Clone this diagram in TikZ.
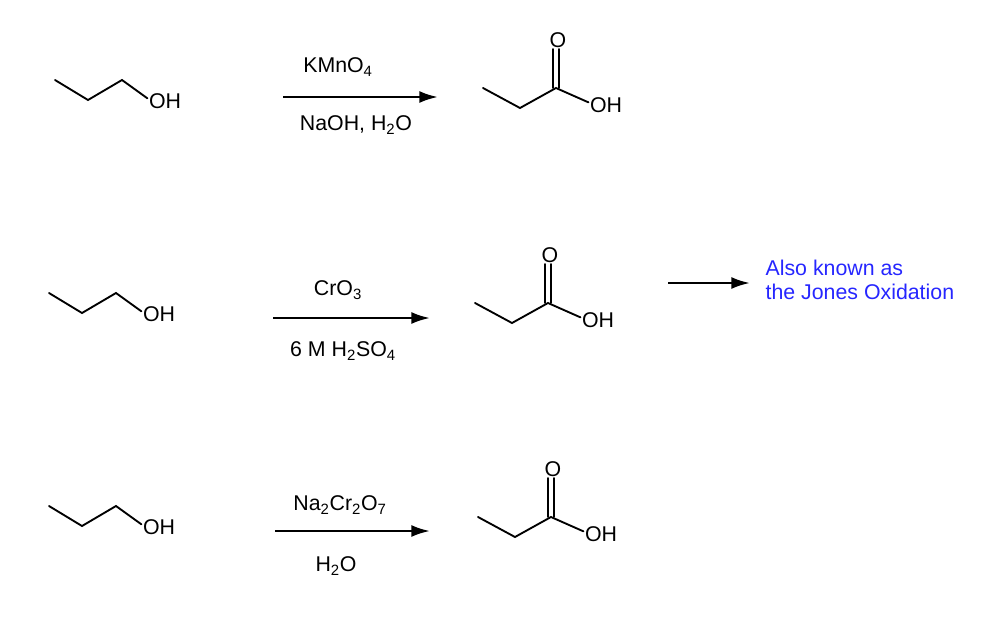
\documentclass[tikz,border=0pt]{standalone}
\usepackage{fontspec}
\setmainfont{Liberation Sans}
\usetikzlibrary{arrows.meta}
\newcommand{\sub}[1]{\textsubscript{#1}}
\begin{document}
\begin{tikzpicture}[x=0.75pt,y=-0.75pt,
  bond/.style={line width=1.4pt,line cap=round},
  rxn/.style={line width=1.9pt,-{Latex[length=14pt,width=9pt]}},
  lbl/.style={font=\fontsize{16}{18}\selectfont,inner sep=1pt},
  blue/.style={lbl,text=blue!85!white,align=left,anchor=west}]
\useasboundingbox (0,0) rectangle (1000,629);
\foreach \dx/\dy/\ax/\ay [count=\i] in {0/0/0/0, -6/213/-8/215, -6/426/-5/429}{
  \coordinate (p1\i) at (55+\dx,80+\dy);
  \coordinate (p2\i) at (88+\dx,100+\dy);
  \coordinate (p3\i) at (122+\dx,80+\dy);
  \node[lbl] (oh\i) at (165+\dx,101+\dy) {OH};
  \draw[bond] (p1\i) -- (p2\i) -- (p3\i) -- ([yshift=2pt]oh\i.west);
  \coordinate (a1\i) at (483+\ax,88+\ay);
  \coordinate (a2\i) at (520+\ax,108+\ay);
  \coordinate (a3\i) at (556+\ax,88+\ay);
  \node[lbl] (o\i) at (558+\ax,40+\ay) {O};
  \node[lbl] (aoh\i) at (606+\ax,105+\ay) {OH};
  \draw[bond] (a1\i) -- (a2\i) -- (a3\i) -- ([yshift=2pt]aoh\i.west);
  \draw[bond] ([xshift=-2.2pt]a3\i) -- ([xshift=-2.2pt]o\i.south -| a3\i);
  \draw[bond] ([xshift=2.2pt]a3\i) -- ([xshift=2.2pt]o\i.south -| a3\i);
}
\coordinate (r1s) at (283,97); \coordinate (r1e) at (438,97);
\coordinate (r2s) at (273,318); \coordinate (r2e) at (430,318);
\coordinate (r3s) at (275,531); \coordinate (r3e) at (430,531);
\draw[rxn] (r1s) -- (r1e);
\draw[rxn] (r2s) -- (r2e);
\draw[rxn] (r3s) -- (r3e);
\node[lbl] (k1) at (338,67) {KMnO\sub{4}};
\node[lbl] (k2) at (356,125) {NaOH, H\sub{2}O};
\node[lbl] (c1) at (338,290) {CrO\sub{3}};
\node[lbl] (c2) at (343,351) {6 M H\sub{2}SO\sub{4}};
\node[lbl] (n1) at (340,505) {Na\sub{2}Cr\sub{2}O\sub{7}};
\node[lbl] (n2) at (336,566) {H\sub{2}O};
\node[blue] (note) at (764,280) {Also known as\\the Jones Oxidation};
\coordinate (js) at (668,283);
\coordinate (je) at (750,283);
\draw[rxn] (js) -- (je);
\end{tikzpicture}
\end{document}
